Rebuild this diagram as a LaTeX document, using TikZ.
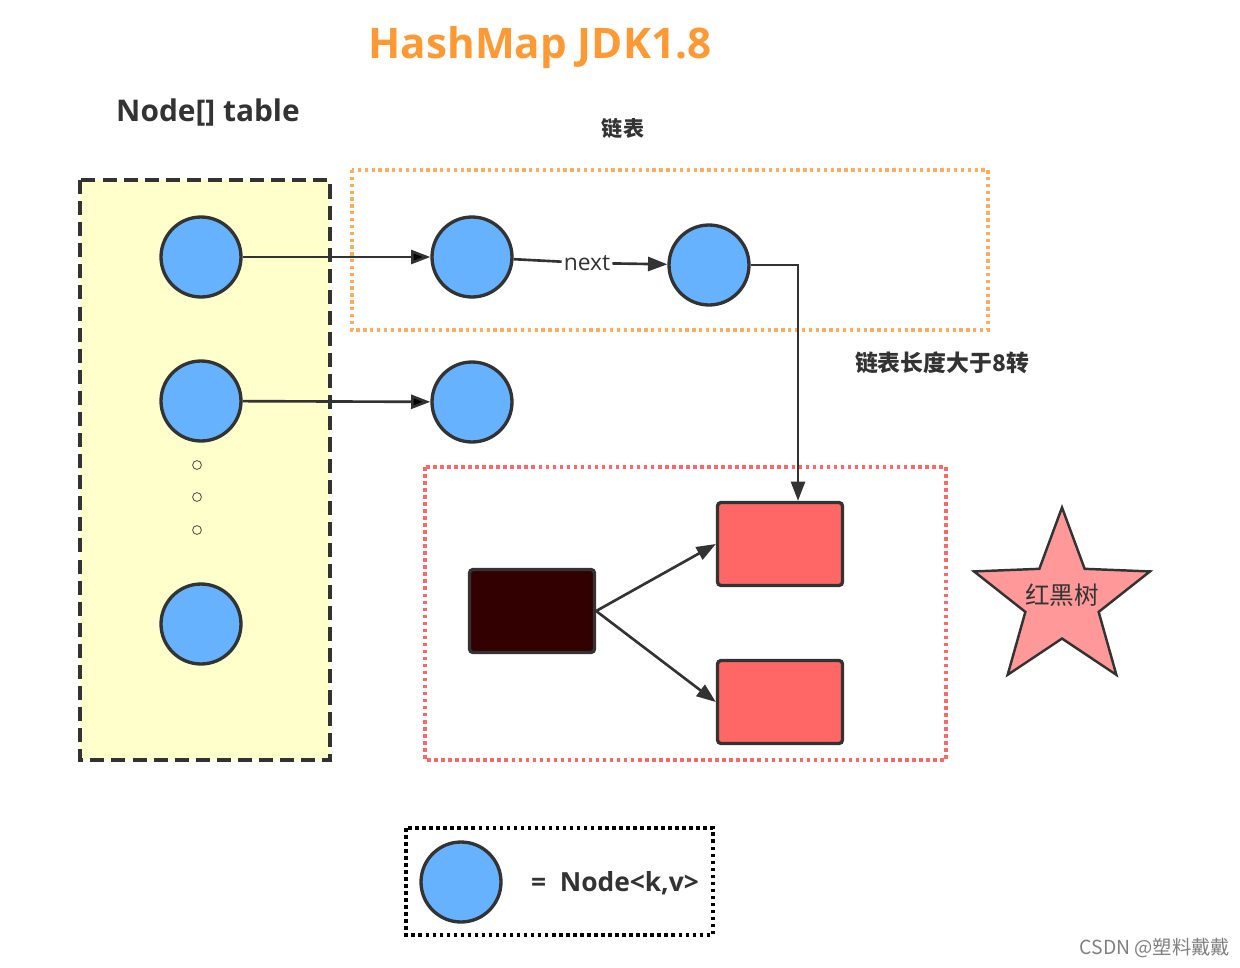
\documentclass[tikz,border=0pt]{standalone}
\usepackage{fontspec}
\setmainfont{Open Sans}
\newfontfamily\cjk{Noto Sans CJK SC}
\usetikzlibrary{positioning,shapes.geometric,arrows.meta}
\definecolor{nodeblue}{HTML}{66B2FF}
\definecolor{linegray}{HTML}{333333}
\definecolor{titleorange}{HTML}{FF9933}
\definecolor{tablefill}{HTML}{FFFFCC}
\definecolor{treered}{HTML}{FF6666}
\definecolor{starred}{HTML}{FF9999}
\definecolor{rootdark}{HTML}{330000}
\begin{document}
\begin{tikzpicture}[x=0.02cm,y=-0.02cm]
\tikzstyle{entry}=[circle, minimum size=1.6cm, line width=1.9pt, draw=linegray, fill=nodeblue]
\tikzstyle{tnode}=[rectangle, rounded corners=2pt, minimum width=2.5cm, minimum height=1.66cm, line width=1.9pt, draw=linegray, fill=treered]
\tikzstyle{connect}=[-{Triangle[length=11pt,width=8pt]}, line width=1.5pt, draw=linegray]
\tikzstyle{dot}=[circle, minimum size=5pt, inner sep=0pt, draw=linegray, thin]
\useasboundingbox (0,0) rectangle (1240,967);
\draw[fill=tablefill, line width=1.9pt, draw=linegray, dash pattern=on 8pt off 4pt] (80,180) rectangle (330,760);
\draw[draw=titleorange!80, line width=1.9pt, dotted] (352,170) rectangle (988,330);
\draw[draw=red!60, line width=2pt, dotted] (425,467) rectangle (946,760);
\draw[draw=black, line width=2pt, dotted] (406,828) rectangle (713,935);
	\node[text=titleorange, font=\bfseries\fontsize{24}{28}\selectfont] (title) at (540,48) {HashMap JDK1.8};
	\node[text=linegray, font=\bfseries\fontsize{17}{20}\selectfont] (tname) at (208,113) {Node[] table};
	\node[text=linegray, font=\cjk\bfseries\fontsize{12}{14}\selectfont] (ltitle) at (623,128) {链表};
	\node[entry] (t_1) at (201,257) {};
	\node[entry] (t_2) at (201,401) {};
	\node[entry] (t_3) at (201,624) {};
	\node[dot] (d_1) at (197,465) {};
	\node[dot] (d_2) at (197,497) {};
	\node[dot] (d_3) at (197,530) {};
	\node[entry] (l_1) at (472,257) {};
	\node[entry] (l_2) at (709,265) {};
	\node[entry] (l_3) at (472,402) {};
	\node[text=linegray, font=\fontsize{13}{15}\selectfont, fill=white, inner sep=1pt] (next) at (587,263) {next};
	\node[text=linegray, font=\cjk\bfseries\fontsize{13}{15}\selectfont] (conv) at (942,363) {链表长度大于8转};
	\node[tnode, fill=rootdark] (root) at (532,611) {};
	\node[tnode] (r_1) at (780,544) {};
	\node[tnode] (r_2) at (780,702) {};
	\node[star, star points=5, star point ratio=2.4, minimum size=3.7cm, line width=1.4pt, draw=linegray, fill=starred, inner sep=0pt] (rbt) at (1062,600) {};
	\node[text=linegray, font=\cjk\fontsize{14}{16}\selectfont] (rbtext) at (1062,595) {红黑树};
	\node[entry] (leg) at (461,882) {};
	\node[text=linegray, font=\bfseries\fontsize{15}{18}\selectfont] (legtext) at (615,883) {=\ \ Node<k,v>};
	\node[text=gray, font=\cjk\fontsize{11}{13}\selectfont] (mark) at (1155,948) {CSDN @塑料戴戴};
	\coordinate (bend) at (798,265);
	\path[connect] (t_1) edge (l_1) (t_2) edge (l_3);
	\draw[line width=1.5pt, draw=linegray] (l_1) -- (next);
	\draw[connect] (next) -- (l_2);
	\draw[connect] (l_2.east) -- (bend) -- (r_1.north -| bend);
	\draw[connect] (root.east) -- (r_1.west);
	\draw[connect] (root.east) -- (r_2.west);
\end{tikzpicture}
\end{document}
